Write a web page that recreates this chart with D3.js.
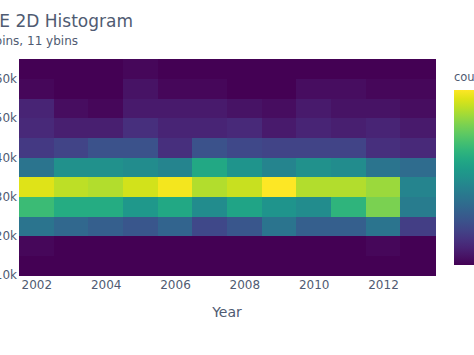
<!DOCTYPE html>
<html>
<head>
<meta charset="utf-8">
<script src="https://cdn.jsdelivr.net/npm/d3@7"></script>
<style>
  html, body { margin: 0; padding: 0; background: #fff; overflow: hidden; }
  svg { display: block; font-family: "DejaVu Sans", Verdana, sans-serif; }
</style>
</head>
<body>
<svg id="chart" width="474" height="355"></svg>
<script>
// ---- data ----
const years = [2002, 2003, 2004, 2005, 2006, 2007, 2008, 2009, 2010, 2011, 2012, 2013];
const salaryBinStarts = [10000, 15000, 20000, 25000, 30000, 35000, 40000, 45000, 50000, 55000, 60000];
const binSize = 5000;
const xTickLabels = [2002, 2004, 2006, 2008, 2010, 2012];
const yTickValues = [10000, 20000, 30000, 40000, 50000, 60000];
// counts per year, bottom (10k-15k) to top (60k-65k)
const count2002 = [0, 1, 23, 41, 57, 23, 10, 7, 6, 1, 0];
const count2003 = [0, 0, 20, 37, 54, 30, 12, 5, 2, 0, 0];
const count2004 = [0, 0, 18, 37, 53, 30, 15, 5, 1, 0, 0];
const count2005 = [0, 0, 16, 32, 56, 29, 15, 8, 4, 3, 1];
const count2006 = [0, 0, 19, 36, 59, 27, 8, 6, 4, 1, 0];
const count2007 = [0, 0, 13, 29, 53, 36, 15, 6, 4, 1, 0];
const count2008 = [0, 0, 16, 35, 55, 31, 13, 7, 3, 0, 0];
const count2009 = [0, 0, 23, 31, 60, 27, 12, 4, 2, 0, 0];
const count2010 = [0, 0, 18, 29, 53, 30, 12, 6, 4, 2, 0];
const count2011 = [0, 0, 18, 39, 53, 29, 12, 5, 3, 2, 0];
const count2012 = [0, 1, 23, 48, 51, 23, 8, 6, 3, 1, 0];
const count2013 = [0, 0, 11, 25, 27, 21, 7, 4, 2, 1, 0];
const countsByYear = [count2002, count2003, count2004, count2005, count2006, count2007,
                      count2008, count2009, count2010, count2011, count2012, count2013];

const titleText = "SALARY vs TIME 2D Histogram";
const subtitleText = "12 xbins, 11 ybins";
const xTitle = "Year";
const colorbarTitle = "count";

// ---- layout ----
const svg = d3.select("#chart");
const plot = { left: 19, right: 435, top: 59, bottom: 275 };
const textColor = "#4f5b72";
const fontFam = "'DejaVu Sans', Verdana, sans-serif";

const x = d3.scaleLinear().domain([years[0] - 0.5, years[years.length - 1] + 0.5]).range([plot.left, plot.right]);
const y = d3.scaleLinear().domain([salaryBinStarts[0], salaryBinStarts[salaryBinStarts.length - 1] + binSize]).range([plot.bottom, plot.top]);
const maxCount = d3.max(countsByYear, c => d3.max(c));
const color = d3.scaleSequential(d3.interpolateViridis).domain([0, maxCount]);

const cells = [];
years.forEach((yr, i) => {
  salaryBinStarts.forEach((s, j) => cells.push({ year: yr, y0: s, y1: s + binSize, v: countsByYear[i][j] }));
});

svg.append("g").selectAll("rect").data(cells).join("rect")
  .attr("x", d => x(d.year - 0.5))
  .attr("width", d => x(d.year + 0.5) - x(d.year - 0.5) + 0.5)
  .attr("y", d => y(d.y1))
  .attr("height", d => y(d.y0) - y(d.y1) + 0.5)
  .attr("fill", d => color(d.v))
  .attr("shape-rendering", "crispEdges");

// x axis
const xAxis = svg.append("g").attr("transform", `translate(0,${plot.bottom})`)
  .call(d3.axisBottom(x).tickValues(xTickLabels).tickFormat(d3.format("d")).tickSize(0).tickPadding(5));
xAxis.select(".domain").remove();
xAxis.selectAll("text").attr("fill", textColor).attr("font-size", 12).attr("font-family", fontFam);

// y axis
const yAxis = svg.append("g").attr("transform", `translate(${plot.left},0)`)
  .call(d3.axisLeft(y).tickValues(yTickValues).tickFormat(d => d3.format("d")(d / 1000) + "k").tickSize(0).tickPadding(2));
yAxis.select(".domain").remove();
yAxis.selectAll("text").attr("fill", textColor).attr("font-size", 12).attr("font-family", fontFam);

// axis title
svg.append("text").attr("x", (plot.left + plot.right) / 2).attr("y", 317)
  .attr("text-anchor", "middle").attr("fill", textColor).attr("font-size", 14).text(xTitle);

// titles
svg.append("text").attr("x", 133).attr("y", 27).attr("text-anchor", "end")
  .attr("fill", textColor).attr("font-size", 17).text(titleText);
svg.append("text").attr("x", 78).attr("y", 45).attr("text-anchor", "end")
  .attr("fill", textColor).attr("font-size", 12).text(subtitleText);

// colorbar
const cb = { x: 454, w: 30, top: 90, bottom: 265 };
const defs = svg.append("defs");
const grad = defs.append("linearGradient").attr("id", "cbgrad")
  .attr("x1", 0).attr("y1", 1).attr("x2", 0).attr("y2", 0);
d3.range(0, 1.0001, 0.05).forEach(t => {
  grad.append("stop").attr("offset", t).attr("stop-color", d3.interpolateViridis(t));
});
svg.append("rect").attr("x", cb.x).attr("y", cb.top).attr("width", cb.w)
  .attr("height", cb.bottom - cb.top).attr("fill", "url(#cbgrad)");
const cbScale = d3.scaleLinear().domain([0, maxCount]).range([cb.bottom, cb.top]);
const cbAxis = svg.append("g").attr("transform", `translate(${cb.x + cb.w},0)`)
  .call(d3.axisRight(cbScale).ticks(5).tickSize(0).tickPadding(4));
cbAxis.select(".domain").remove();
cbAxis.selectAll("text").attr("fill", textColor).attr("font-size", 12);
svg.append("text").attr("x", cb.x).attr("y", 81).attr("fill", textColor)
  .attr("font-size", 11.5).text(colorbarTitle);
</script>
</body>
</html>
